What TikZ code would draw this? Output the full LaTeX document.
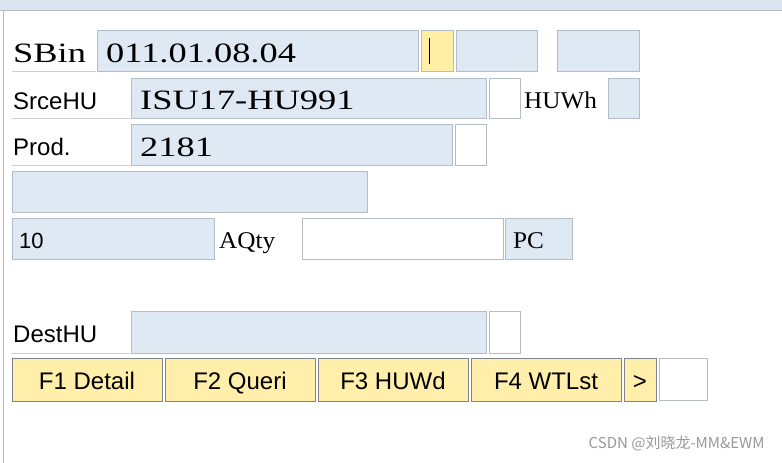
\documentclass[tikz,border=0pt]{standalone}
\usepackage{fontspec}
\setmainfont[FakeStretch=1.3]{Liberation Serif}
\newfontfamily\narrow[FakeStretch=1.05]{Liberation Serif}
\newfontfamily\sans{Liberation Sans}
\newfontfamily\cjk{Noto Sans CJK SC}
\definecolor{fld}{HTML}{DFE9F3}
\definecolor{fbd}{HTML}{B4BCC6}
\definecolor{ylw}{HTML}{FFEFA6}
\definecolor{btn}{HTML}{FFEFAA}
\definecolor{band}{HTML}{DCE5EF}
\begin{document}
\begin{tikzpicture}[x=1pt,y=-1pt,
 fieldbox/.style={draw=fbd,fill=fld},
 whitebox/.style={draw=fbd,fill=white},
 btnbox/.style={draw=fbd!70!black,fill=btn},
 lab/.style={anchor=base west,inner sep=0pt},
 mono/.style={font=\fontsize{28}{30}\selectfont},
 nser/.style={font=\narrow\fontsize{24}{30}\selectfont},
 sf/.style={font=\sans\fontsize{24}{26}\selectfont},
 uline/.style={draw=fbd!70}]
\useasboundingbox (0,0) rectangle (782,463);
\fill[white] (0,0) rectangle (782,463);
\fill[band] (0,0) rectangle (782,10);
\draw[fbd] (0,10) -- (782,10);
\draw[fbd] (3,10) -- (3,463);
% row 1
\node[lab,mono] (l1) at (13,62) {SBin};
\draw[uline] (12,71) -- (96,71);
\draw[fieldbox] (97,30) rectangle (418,71);
\node[lab,mono] (v1) at (106,62) {011.01.08.04};
\draw[draw=fbd,fill=ylw] (421,30) rectangle (453,71);
\draw[thick] (429,38) -- (429,64);
\draw[fieldbox] (456,30) rectangle (537,71);
\draw[fieldbox] (557,30) rectangle (639,71);
% row 2
\node[lab,sf] (l2) at (13,109) {SrceHU};
\draw[uline] (12,118) -- (130,118);
\draw[fieldbox] (131,78) rectangle (486,118);
\node[lab,mono] (v2) at (140,109) {ISU17-HU991};
\draw[whitebox] (489,78) rectangle (520,118);
\node[lab,nser] (l2b) at (524,108) {HUWh};
\draw[fieldbox] (608,78) rectangle (639,118);
% row 3
\node[lab,sf] (l3) at (13,155) {Prod.};
\draw[uline] (12,165) -- (130,165);
\draw[fieldbox] (131,124) rectangle (452,165);
\node[lab,mono] (v3) at (140,156) {2181};
\draw[whitebox] (455,124) rectangle (486,165);
% row 4
\draw[fieldbox] (12,171) rectangle (367,212);
% row 5
\draw[fieldbox] (12,218) rectangle (214,259);
\node[lab,sf,font=\sans\fontsize{22}{26}\selectfont] (v5) at (19,248) {10};
\node[lab,nser] (l5) at (219,248) {AQty};
\draw[whitebox] (302,218) rectangle (503,259);
\draw[fieldbox] (505,218) rectangle (572,259);
\node[lab,nser] (v5b) at (513,248) {PC};
% row 6
\node[lab,sf] (l6) at (13,342) {DestHU};
\draw[uline] (12,353) -- (130,353);
\draw[fieldbox] (131,311) rectangle (486,353);
\draw[whitebox] (489,311) rectangle (520,353);
% buttons
\foreach \x/\t in {12/F1 Detail,165/F2 Queri,318/F3 HUWd,471/F4 WTLst}{
  \draw[btnbox] (\x,358) rectangle (\x+150,401);
  \node[sf,anchor=base,inner sep=0pt] at (\x+75,389) {\t};
}
\draw[btnbox] (624,358) rectangle (656,401);
\node[sf,anchor=base,inner sep=0pt] (gt) at (640,389) {>};
\draw[whitebox] (659,358) rectangle (707,400);
\node[anchor=east,text=gray!80,font=\cjk\fontsize{15}{16}\selectfont] (wm) at (768,443) {CSDN @刘晓龙-MM\&EWM};
\end{tikzpicture}
\end{document}
